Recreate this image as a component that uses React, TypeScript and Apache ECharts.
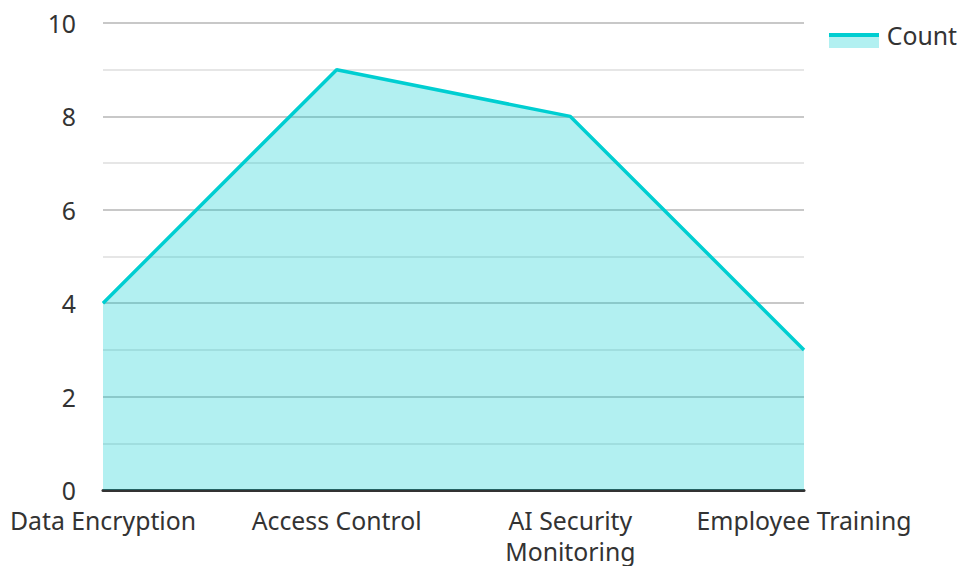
import React, { useEffect, useRef } from "react";
import * as echarts from "echarts";

const categories = ["Data Encryption", "Access Control", "AI Security Monitoring", "Employee Training"];
const counts = [4, 9, 8, 3];
const seriesName = "Count";
const yTicks = { min: 0, max: 10, interval: 2 };

const LINE = "#00CED1";
const AREA = "rgba(0,206,209,0.3)";
const FONT = "'Noto Sans', sans-serif";
const FS = 24.8;

export default function App() {
  const ref = useRef<HTMLDivElement>(null);
  useEffect(() => {
    document.body.style.margin = "0";
    const chart = echarts.init(ref.current!, null, { renderer: "svg" });
    chart.setOption({
      animation: false,
      textStyle: { fontFamily: FONT },
      grid: { left: 103, right: 158, top: 23, bottom: 75 },
      legend: {
        data: [seriesName],
        right: 5,
        top: 22,
        padding: 0,
        icon: "rect",
        itemWidth: 50,
        itemHeight: 15,
        itemGap: 10,
        itemStyle: { color: "rgba(0,0,0,0)" },
        textStyle: { fontSize: FS, color: "#333", fontFamily: FONT },
      },
      graphic: [
        {
          type: "rect",
          left: 829,
          top: 33,
          shape: { width: 50, height: 15 },
          style: { fill: AREA },
          silent: true,
        },
        {
          type: "rect",
          left: 829,
          top: 33,
          shape: { width: 50, height: 4 },
          style: { fill: LINE },
          silent: true,
        },
      ],
      xAxis: {
        type: "category",
        data: categories,
        boundaryGap: false,
        axisLine: { lineStyle: { color: "#333", width: 3 } },
        axisTick: { show: false },
        axisLabel: {
          fontSize: FS,
          color: "#333",
          margin: 14,
          lineHeight: 31,
          interval: 0,
          formatter: (v: string) => {
            const w = v.split(" ");
            return w.length > 2 ? w.slice(0, 2).join(" ") + "\n" + w.slice(2).join(" ") : v;
          },
        },
        splitLine: { show: false },
      },
      yAxis: {
        type: "value",
        min: yTicks.min,
        max: yTicks.max,
        interval: yTicks.interval,
        axisLine: { show: false },
        axisTick: { show: false },
        axisLabel: { fontSize: FS, color: "#333", margin: 27 },
        splitLine: { lineStyle: { color: "#c8c8c8", width: 2 } },
        minorTick: { show: false, splitNumber: 2 },
        minorSplitLine: { show: true, lineStyle: { color: "#e6e6e6", width: 2 } },
      },
      series: [
        {
          name: seriesName,
          type: "line",
          data: counts,
          symbol: "none",
          lineStyle: { color: LINE, width: 3.5 },
          itemStyle: { color: LINE },
          areaStyle: { color: LINE, opacity: 0.3 },
        },
      ],
    });
    return () => chart.dispose();
  }, []);
  return <div ref={ref} style={{ position: "absolute", left: 0, top: 0, width: 962, height: 566 }} />;
}
